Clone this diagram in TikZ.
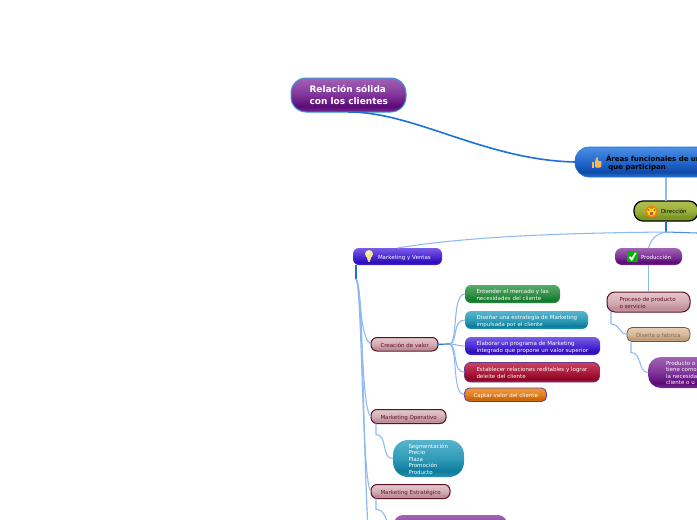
\documentclass[tikz,border=0pt]{standalone}
\usepackage{fontspec}
\setmainfont{DejaVu Sans}
\definecolor{linkL}{HTML}{8DB9F2}
\definecolor{linkD}{HTML}{1E6FDC}
\definecolor{maroon}{HTML}{5E0F28}
\definecolor{plumEdge}{HTML}{6A3A8C}
\definecolor{tanEdge}{HTML}{6E5A48}
\definecolor{skyEdge}{HTML}{3A9AD8}
\definecolor{tanText}{HTML}{7A6A60}
\definecolor{thumbC}{HTML}{F2B85C}
\definecolor{bulbC}{HTML}{F6E88A}
\newcommand\mkshade[5]{%
 \definecolor{#1a}{HTML}{#2}\definecolor{#1b}{HTML}{#3}\definecolor{#1c}{HTML}{#4}\definecolor{#1d}{HTML}{#5}%
 \pgfdeclareverticalshading{#1}{100bp}{color(0bp)=(#1d);color(25bp)=(#1d);color(33bp)=(#1c);color(50bp)=(#1b);color(75bp)=(#1a);color(100bp)=(#1a)}}
\mkshade{gPurple}{A263B5}{80349A}{5A0A75}{7A2A92}
\mkshade{gBlue}{4C8FE6}{2268CC}{0E4AA8}{2A72D0}
\mkshade{gOlive}{B0C050}{9CB03C}{7C9420}{90A838}
\mkshade{gViolet}{7A5CE6}{4C2CD4}{2C0CB8}{4A2CCC}
\mkshade{gPink}{E4C8CC}{D4AEB4}{BC8C94}{D0A8B0}
\mkshade{gTan}{E6CDB4}{D8B898}{BE9A78}{D4B090}
\mkshade{gGreen}{58AC68}{349048}{127A2C}{2A8A40}
\mkshade{gTeal}{58B4CC}{309CB8}{0C7C9C}{2A94B0}
\mkshade{gRed}{C84460}{AC1C3C}{8C0424}{A41C3C}
\mkshade{gOrange}{EC9C40}{E08020}{C86408}{DC7C20}
\tikzset{
 boxbase/.style={shade,shading angle=0,inner sep=0pt,outer sep=0pt,text=white,font=\fontsize{5.5}{7.5}\selectfont},
 fillonly/.style={boxbase,shading=#1},
 maroonbox/.style={boxbase,shading=gPink,draw=maroon,line width=1pt,text=maroon},
 plumbox/.style={boxbase,shading=#1,draw=plumEdge,line width=0.8pt},
 link/.style={linkL,line width=1.05pt},
 linkdark/.style={linkD,line width=1.4pt},
}
% name, left, top, right, bottom, radius, text inset, style, text
\newcommand\bx[9]{%
 \pgfmathsetmacro\bxw{#4-#2}\pgfmathsetmacro\bxh{#5-#3}%
 \pgfmathsetmacro\bxx{(#2+#4)/2}\pgfmathsetmacro\bxy{(#3+#5)/2}%
 \node[#8,rounded corners=#6pt,minimum width=\bxw pt,minimum height=\bxh pt] (#1) at (\bxx,\bxy)
  {\hbox to \bxw pt{\hskip #7pt\raisebox{\dimexpr-0.25em-1.2pt\relax}[0pt][0pt]{\begin{tabular}[c]{@{}l@{}}#9\end{tabular}}\hss}};}
\begin{document}
\begin{tikzpicture}[x=1pt,y=-1pt]
\useasboundingbox (0,0) rectangle (697,520);
\clip (0,0) rectangle (697,520);
\fill[white] (0,0) rectangle (697,520);
% boxes
\bx{rel}{291}{78}{406}{112}{15}{18.5}{fillonly=gPurple,draw=skyEdge,line width=1pt,font=\bfseries\fontsize{9}{11.2}\selectfont}{Relación sólida\\con los clientes}
\bx{ar}{575}{147}{757}{177}{14}{31}{fillonly=gBlue,draw=linkD,line width=.6pt,text=black,font=\bfseries\fontsize{7}{8}\selectfont}{Áreas funcionales de un\\\ que participan}
\bx{dir}{634}{201}{698}{221}{9}{27}{fillonly=gOlive,draw=black,line width=1.2pt,text=black}{Dirección}
\bx{mv}{353}{248}{442}{265}{6}{25}{fillonly=gViolet}{Marketing y Ventas}
\bx{pr}{615}{248}{682}{265}{7}{26}{fillonly=gPurple}{Producción}
\bx{cr}{371}{337.5}{438}{351}{6}{9.5}{maroonbox}{Creación de valor}
\bx{mo}{371}{409.5}{446}{423.5}{6}{9.5}{maroonbox}{Marketing Operativo}
\bx{me}{371}{484.5}{450}{498.5}{6}{9.5}{maroonbox}{Marketing Estratégico}
\bx{pc}{607}{292}{690}{312}{8}{12.5}{maroonbox}{Proceso de producto\\o servicio}
\bx{df}{627}{327.5}{690}{341.5}{5}{9}{boxbase,shading=gTan,draw=tanEdge,line width=.8pt,text=tanText}{Diseña o fabrica}
\bx{en}{465}{285}{560}{303}{6}{11.5}{fillonly=gGreen}{Entender el mercado y las\\necesidades del cliente}
\bx{di}{465}{311}{588}{329}{6}{11.5}{fillonly=gTeal}{Diseñar una estrategia de Marketing\\impulsada por el cliente}
\bx{el}{465}{337}{600}{355}{6}{11.5}{fillonly=gViolet}{Elaborar un programa de Marketing\\integrado que propone un valor superior}
\bx{es}{464.5}{362.5}{599.5}{382}{6}{12}{plumbox=gRed}{Establecer relaciones reditables y lograr\\deleite del cliente}
\bx{ca}{464.5}{388}{546.5}{401.5}{5}{9}{plumbox=gOrange}{Captar valor del cliente}
\bx{sg}{393}{440}{464}{477}{15}{15.5}{fillonly=gTeal,font=\fontsize{5.5}{6.5}\selectfont}{Segmentación\\Precio\\Plaza\\Promoción\\Producto}
\bx{pt}{648}{357}{760}{388}{13}{18}{fillonly=gPurple,font=\fontsize{5.5}{6.5}\selectfont}{Producto o\\tiene como\\la necesida\\cliente o u}
\bx{bb}{394}{515}{507}{550}{9}{13}{fillonly=gPurple}{\raisebox{15pt}{Conocimiento del cliente}}
% connectors
\coordinate (hub) at (666,232);
\coordinate (rightE) at (697,233);
\coordinate (mvH) at (356,279);
\coordinate (botS) at (367.5,520);
\coordinate (crH) at (450,344);
\draw[linkD,line width=1.6pt] (rel.south) .. controls (415,112) and (485,160) .. (ar.west);
\draw[link] (ar.south) -- (dir.north);
\draw[linkdark] (dir.south) -- (hub);
\draw[link] (hub) .. controls (570,233) and (470,236) .. (mv.north);
\draw[link] (hub) .. controls (655,234) and (651,240) .. (pr.north);
\draw[link,linkD!60!linkL] (hub) -- (rightE);
\draw[linkdark] ([xshift=3pt]mv.south west) -- (mvH);
\draw[link] (mvH) .. controls (361,284) and (359,338) .. (cr.west);
\draw[link] (mvH) .. controls (362,284) and (361,412) .. (mo.west);
\draw[link] (mvH) .. controls (362,286) and (362,486) .. (me.west);
\draw[link,line width=1.2pt] (mvH) .. controls (363,284) and (362,400) .. (botS);
\draw[linkdark,line width=1.2pt] (cr.east) -- (crH);
\draw[link] (crH) .. controls (458,340) and (452,294) .. (en.west);
\draw[link] (crH) .. controls (458,342) and (452,320) .. (di.west);
\draw[link] (crH) .. controls (455,344) and (458,346) .. (el.west);
\draw[link] (crH) .. controls (458,348) and (452,372) .. (es.west);
\draw[link] (crH) .. controls (458,352) and (452,395) .. (ca.west);
\draw[link] ([xshift=5pt]mo.south west) -- ++(0,11) .. controls +(12,0) and (381,459) .. (sg.west);
\draw[link] ([xshift=5pt]me.south west) -- ++(0,11) .. controls +(10,0) and (384,520) .. (bb.west);
\draw[link] (pr.south) -- (pc.north);
\draw[link] ([xshift=4pt]pc.south west) -- ++(0,12) .. controls +(9,0) and (620,335) .. (df.west);
\draw[link] ([xshift=4pt]df.south west) -- ++(0,11) .. controls +(11,0) and (638,372.5) .. (pt.west);
% icons
\begin{scope}[shift={(597,162.5)}]
 \fill[thumbC] (-5,-.5) rectangle (-2.8,5);
 \fill[thumbC,rounded corners=1pt] (-2.2,-.5) -- (-.6,-5.5) -- (1,-5.5) -- (.8,-1.5) -- (4.6,-1.5) -- (4.2,5) -- (-2.2,5) -- cycle;
\end{scope}
\begin{scope}[shift={(651.5,211.5)}]
 \fill[orange!75!brown] (0,0) circle (6);
 \fill[yellow!80!orange] (0,0) circle (4.4);
 \fill[brown!75!black] (-2.8,-1.4) circle (.9) (2.8,-1.4) circle (.9);
 \fill[brown!70!purple] (-1.8,.4) rectangle (1.8,3);
 \fill[orange!80!brown] (-1.5,-5) rectangle (1.5,-2.6);
\end{scope}
\begin{scope}[shift={(369,256)}]
 \fill[bulbC] (0,-2) circle (4);
 \fill[white!70!bulbC] (-.8,-3) circle (1.7);
 \fill[bulbC] (-2.4,0) -- (2.4,0) -- (1.3,4.5) -- (-1.3,4.5) -- cycle;
 \fill[gray!30!bulbC] (-1.2,4) rectangle (1.2,6);
\end{scope}
\begin{scope}[shift={(632.5,256.5)}]
 \fill[green!70!black,rounded corners=1pt] (-5.5,-5.5) rectangle (5.5,5.5);
 \draw[white,line width=1.8pt] (-3,0.3) -- (-.8,3) -- (3.2,-3.6);
\end{scope}
\end{tikzpicture}
\end{document}
